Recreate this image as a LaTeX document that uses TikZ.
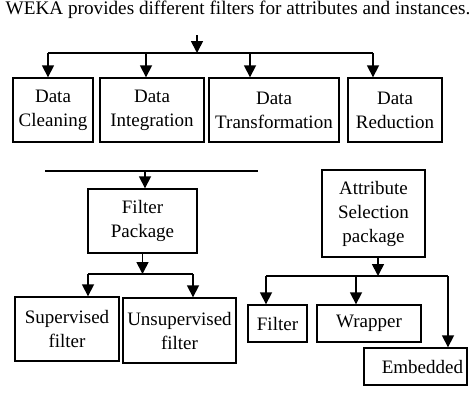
\documentclass[tikz,border=0pt]{standalone}
\usepackage{fontspec}
\setmainfont{Liberation Serif}
\usetikzlibrary{arrows.meta}
\begin{document}
\begin{tikzpicture}[x=1pt, y=-1pt,
        box/.style={rectangle, draw=black, line width=1.4pt, align=center, inner sep=1pt, font=\fontsize{19}{24}\selectfont},
        bus/.style={line width=1.7pt},
        arrow/.style={line width=1.7pt, -{Triangle[width=12pt,length=12pt]}}
    ]
        \useasboundingbox (0,0) rectangle (474,407);
        \node[anchor=base, inner sep=0pt, font=\fontsize{19.2}{23}\selectfont] (title) at (238,14.5) {WEKA provides different filters for attributes and instances.};

        \node[box, minimum width=80pt, minimum height=64pt] (cleaning) at (53,110) {Data\\Cleaning};
        \node[box, minimum width=104pt, minimum height=64pt] (integration) at (152,110) {Data\\Integration};
        \node[box, minimum width=130pt, minimum height=64pt] (transformation) at (274,110) {Data\\Transformation};
        \node[box, minimum width=94pt, minimum height=64pt] (reduction) at (395,110) {Data\\Reduction};

        \node[box, minimum width=109pt, minimum height=64pt] (filterpkg) at (142.5,221) {Filter\\Package};
        \node[box, minimum width=104pt, minimum height=64pt] (supervised) at (67,329) {Supervised\\filter};
        \node[box, minimum width=113pt, minimum height=65pt] (unsupervised) at (179.5,330.5) {Unsupervised\\filter};

        \node[box, minimum width=103pt, minimum height=87pt] (attrsel) at (373.5,213.5) {Attribute\\Selection\\package};
        \node[box, minimum width=59pt, minimum height=37pt] (filter) at (277.5,323.5) {Filter};
        \node[box, minimum width=104pt, minimum height=37pt] (wrapper) at (369,323.5) {Wrapper};
        \node[box, minimum width=103pt, minimum height=37pt, text width=95pt, align=right] (embedded) at (415.5,366.5) {Embedded};

        % preprocessing tasks
        \coordinate (topin) at (197,35);
        \coordinate (topbus) at (197,53);
        \draw[arrow] (topin) -- (topbus);
        \draw[bus] ([xshift=-5pt]cleaning.north |- topbus) -- ([xshift=-22pt]reduction.north |- topbus);
        \draw[arrow] ([xshift=-5pt]cleaning.north |- topbus) -- ([xshift=-5pt]cleaning.north);
        \draw[arrow] ([xshift=-6pt]integration.north |- topbus) -- ([xshift=-6pt]integration.north);
        \draw[arrow] ([xshift=-24pt]transformation.north |- topbus) -- ([xshift=-24pt]transformation.north);
        \draw[arrow] ([xshift=-22pt]reduction.north |- topbus) -- ([xshift=-22pt]reduction.north);

        % filter package
        \coordinate (midl) at (45,171);
        \coordinate (midr) at (258,171);
        \draw[bus] (midl) -- (midr);
        \draw[arrow] ([xshift=2.5pt]filterpkg.north |- midl) -- ([xshift=2.5pt]filterpkg.north);
        \coordinate (fpbus) at (142,274);
        \draw[arrow] (filterpkg.south) -- (filterpkg.south |- fpbus);
        \draw[bus] ([xshift=21pt]supervised.north |- fpbus) -- ([xshift=13.5pt]unsupervised.north |- fpbus);
        \draw[arrow] ([xshift=21pt]supervised.north |- fpbus) -- ([xshift=21pt]supervised.north);
        \draw[arrow] ([xshift=13.5pt]unsupervised.north |- fpbus) -- ([xshift=13.5pt]unsupervised.north);

        % attribute selection
        \coordinate (asbus) at (378,276);
        \draw[arrow] ([xshift=4.5pt]attrsel.south) -- (asbus);
        \draw[bus] ([xshift=-11.5pt]filter.north |- asbus) -- ([xshift=32.5pt]embedded.north |- asbus);
        \draw[arrow] ([xshift=-11.5pt]filter.north |- asbus) -- ([xshift=-11.5pt]filter.north);
        \draw[arrow] ([xshift=-13pt]wrapper.north |- asbus) -- ([xshift=-13pt]wrapper.north);
        \draw[arrow] ([xshift=32.5pt]embedded.north |- asbus) -- ([xshift=32.5pt]embedded.north);
    \end{tikzpicture}
\end{document}
